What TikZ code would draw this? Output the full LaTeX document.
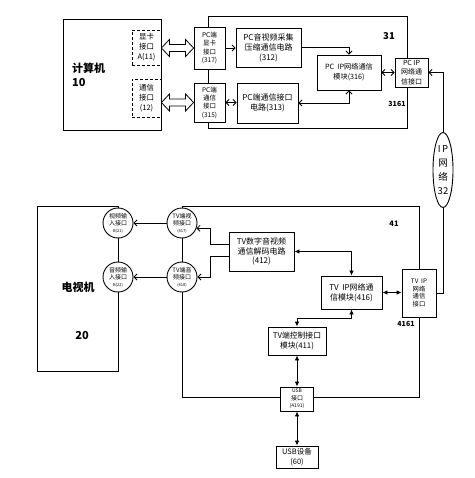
\documentclass[tikz,border=0pt]{standalone}
\usepackage{fontspec}
\setmainfont{Noto Sans CJK SC}
\usetikzlibrary{arrows.meta,calc,shapes.geometric}
\newcommand{\fs}[2]{\fontsize{#1}{#2}\selectfont}
\begin{document}
\begin{tikzpicture}[x=1pt,y=-1pt,
  frame/.style={draw, line width=0.9pt},
  box/.style={draw, line width=0.9pt, fill=white, align=center, inner sep=0pt},
  sz/.style 2 args={minimum width=#1, minimum height=#2},
  dbox/.style={draw, line width=0.8pt, densely dashed, fill=white, align=center, inner sep=0pt},
  circ/.style={draw, circle, line width=0.9pt, fill=white, align=center, inner sep=0pt, minimum size=30, font=\fs{6}{7}},
  conn/.style={line width=0.8pt},
  oa/.style={conn, -{Straight Barb[length=3pt,width=6pt]}},
  oaa/.style={conn, {Straight Barb[length=3pt,width=6pt]}-{Straight Barb[length=3pt,width=6pt]}},
  fa/.style={conn, {Latex[length=5pt,width=4.5pt]}-{Latex[length=5pt,width=4.5pt]}},
  hollow/.style={draw, line width=0.8pt, fill=white},
  lbl/.style={inner sep=0pt, font=\bfseries\fs{7.5}{9}}
]
\useasboundingbox (0,0) rectangle (474,478);
\fill[white] (0,0) rectangle (474,478);

% frames
\draw[frame] (208,16) rectangle (407,128);
\draw[frame] (37,206) rectangle (118,371);
\draw[frame] (182,206) rectangle (419,397);

% computer
\node[box, sz={98}{111}] (comp) at (112,74.5) {};
\node[anchor=west, align=left, inner sep=0pt, font=\bfseries\fs{11}{14}] (compt) at (72,75) {计算机\\10};
\node[dbox, sz={29}{35}, font=\fs{7.5}{10}] (d11) at (146.5,47.5) {显卡\\接口\\A(11)};
\node[dbox, sz={29}{38}, font=\fs{7.5}{10}] (d12) at (146.5,98) {通信\\接口\\(12)};

% PC side
\node[box, sz={31}{42}, font=\fs{6.5}{8.3}] (b317) at (209.5,48) {PC端\\显卡\\接口\\(317)};
\node[box, sz={31}{39}, font=\fs{6.5}{8.3}] (b315) at (209.5,102.5) {PC端\\通信\\接口\\(315)};
\node[box, sz={65}{39}, font=\fs{8}{10}] (b312) at (268.5,47.5) {PC音视频采集\\压缩通信电路\\(312)};
\node[box, sz={61}{40}, font=\fs{8}{10}] (b313) at (267.5,103) {PC端通信接口\\电路(313)};
\node[box, sz={64}{35}, font=\fs{7.2}{10}] (b316) at (349,72.5) {PC\ \ IP网络通信\\模块(316)};
\node[box, sz={33}{29}, font=\fs{7}{9.5}] (bpcip) at (411.5,72.5) {PC\ IP\\网络通\\信接口};
\node[lbl, font=\bfseries\fs{9.5}{11}] (l31) at (389,36) {31};
\node[lbl, font=\bfseries\fs{7}{9}] (l3161) at (397,104) {3161};

% IP network
\node[draw, ellipse, line width=0.9pt, fill=white, inner sep=0pt, minimum width=20, minimum height=75, align=center, font=\fs{9.5}{14}] (ip) at (443,170) {I\,P\\网\\络\\32};

% TV
\node[lbl, font=\bfseries\fs{11}{14}] (tvt) at (78,287) {电视机};
\node[lbl, font=\bfseries\fs{11}{14}] (tvn) at (82,336) {20};
\node[circ] (c21) at (118,223) {视频输\\入接口\\{\fs{4}{7}B(21)}};
\node[circ] (c22) at (118,277) {音频输\\入接口\\{\fs{4}{7}B(22)}};
\node[circ] (c417) at (182,223) {TV端视\\频接口\\{\fs{4}{7}(417)}};
\node[circ] (c418) at (182,277) {TV端音\\频接口\\{\fs{4}{7}(418)}};
\node[box, sz={65}{39}, font=\fs{8}{9.7}] (b412) at (261.5,251.5) {TV数字音视频\\通信解码电路\\(412)};
\node[box, sz={61}{33}, font=\fs{8}{10}] (b416) at (351.5,292.5) {TV\ \ IP网络通\\信模块(416)};
\node[box, sz={34}{48}, font=\fs{6.3}{7.8}] (btvip) at (419,293) {TV\ \ IP\\网络\\通信\\接口};
\node[box, sz={58}{28}, font=\fs{7.8}{10}] (b411) at (297,341) {TV端控制接口\\模块(411)};
\node[box, sz={33}{24}, font=\fs{6}{7.5}] (busb) at (297,399) {{\fs{5}{7.5}USB}\\接口\\{\fs{5}{7.5}(4191)}};
\node[box, sz={42}{22}, font=\fs{7.5}{10}] (b60) at (297,457) {USB设备\\(60)};
\node[lbl] (l41) at (394,224) {41};
\node[lbl, font=\bfseries\fs{7}{9}] (l4161) at (406,324) {4161};

% hollow double arrows
\coordinate (h1a) at (comp.east |- b317.center);
\coordinate (h1b) at (b317.west);
\coordinate (h2a) at (comp.east |- b315.center);
\coordinate (h2b) at (b315.west);
\foreach \A/\B in {h1a/h1b, h2a/h2b}{
  \draw[hollow] let \p1=(\A), \p2=(\B) in
    (\x1,\y1) -- (\x1+8pt,\y1+8.5pt) -- (\x1+8pt,\y1+3.5pt) -- (\x2-8pt,\y1+3.5pt)
    -- (\x2-8pt,\y1+8.5pt) -- (\x2,\y1) -- (\x2-8pt,\y1-8.5pt) -- (\x2-8pt,\y1-3.5pt)
    -- (\x1+8pt,\y1-3.5pt) -- (\x1+8pt,\y1-8.5pt) -- cycle;
}

% PC connectors
\draw[oa] (b317.east) -- (b317.east -| b312.west);
\draw[oaa] (b315.east) -- (b315.east -| b313.west);
\draw[oa] (b312.east) -| (b316.north);
\draw[oaa] (b313.east) -| (b316.south);
\draw[oaa] (b316.east) -- (b316.east -| bpcip.west);
\draw[oa] (ip.north) |- (bpcip.east);
\draw[conn] (ip.south) |- (btvip.east);

% TV connectors
\draw[oa] (c417.west) -- (c21.east);
\draw[oa] (c418.west) -- (c22.east);
\coordinate (j1) at ($(b412.west)+(-18,-7.5)$);
\coordinate (j2) at ($(b412.west)+(-18,4.5)$);
\draw[oa] ($(b412.west)+(0,-7.5)$) -- (j1) |- (c417.-20);
\draw[oa] ($(b412.west)+(0,4.5)$) -- (j2) |- (c418.east);
\draw[fa] (b412.east) -| (b416.north);
\draw[fa] (b416.east) -- (b416.east -| btvip.west);
\coordinate (j3) at ($(b416.south)+(0,9)$);
\draw[fa] (b416.south) -- (j3) -| (b411.north);
\draw[fa] (b411.south) -- (busb.north);
\draw[fa] (busb.south) -- (b60.north);
\end{tikzpicture}
\end{document}
